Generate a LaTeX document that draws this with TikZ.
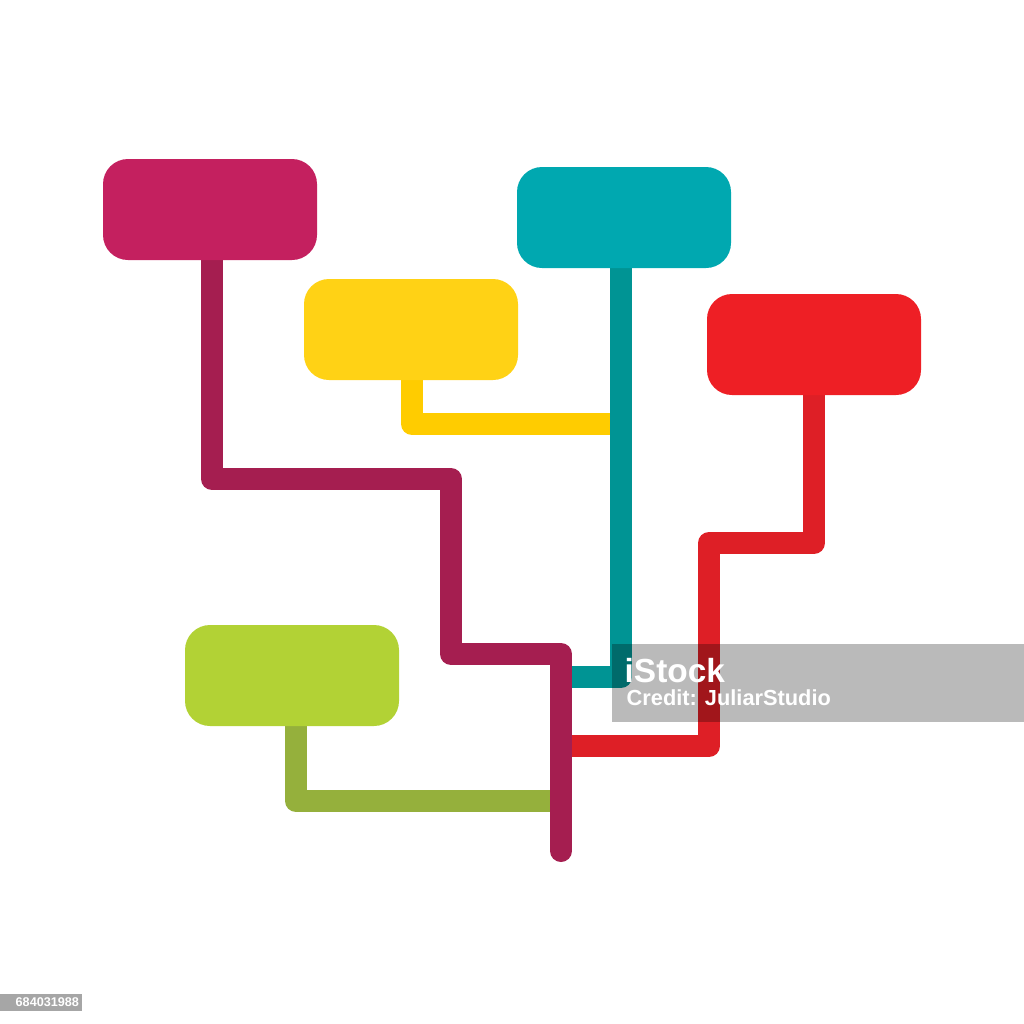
\documentclass[tikz,border=0pt]{standalone}
\usepackage{fontspec}
\setmainfont{Liberation Sans}
\usetikzlibrary{positioning}
\pgfdeclarelayer{edgelayer}
\pgfdeclarelayer{nodelayer}
\pgfsetlayers{edgelayer,nodelayer,main}
\definecolor{boxmagenta}{RGB}{196,32,95}
\definecolor{boxyellow}{RGB}{255,210,21}
\definecolor{boxteal}{RGB}{0,168,176}
\definecolor{boxred}{RGB}{238,31,37}
\definecolor{boxgreen}{RGB}{178,210,53}
\definecolor{linemagenta}{RGB}{165,30,80}
\definecolor{lineyellow}{RGB}{255,204,0}
\definecolor{lineteal}{RGB}{0,148,148}
\definecolor{linered}{RGB}{222,31,38}
\definecolor{linegreen}{RGB}{149,176,60}
\tikzstyle{none}=[inner sep=0pt]
\tikzstyle{card}=[rounded corners=0.25cm, minimum width=2.14cm, minimum height=1.01cm, inner sep=0pt]
\tikzstyle{wire}=[line width=0.22cm, line join=round]
\tikzstyle{stamp}=[text=white, font=\bfseries, inner sep=0pt, anchor=west]

\begin{document}
\begin{tikzpicture}
	\useasboundingbox (0,0) rectangle (10.24,-10.24);
	\begin{pgfonlayer}{nodelayer}
		\node [style=card, fill=boxmagenta] (0) at (2.10, -2.095) {};
		\node [style=card, fill=boxyellow] (1) at (4.11, -3.295) {};
		\node [style=card, fill=boxteal] (2) at (6.24, -2.175) {};
		\node [style=card, fill=boxred] (3) at (8.14, -3.445) {};
		\node [style=card, fill=boxgreen] (4) at (2.92, -6.755) {};
		\coordinate (5) at (2.12, -4.79);
		\coordinate (6) at (4.51, -4.79);
		\coordinate (7) at (4.51, -6.54);
		\coordinate (8) at (5.61, -6.54);
		\coordinate (9) at (5.61, -8.51);
		\coordinate (10) at (4.12, -4.24);
		\coordinate (11) at (6.21, -4.24);
		\coordinate (12) at (6.21, -6.77);
		\coordinate (13) at (5.61, -6.77);
		\coordinate (14) at (8.14, -5.43);
		\coordinate (15) at (7.09, -5.43);
		\coordinate (16) at (7.09, -7.46);
		\coordinate (17) at (5.61, -7.46);
		\coordinate (18) at (2.96, -8.01);
		\coordinate (19) at (5.61, -8.01);
	\end{pgfonlayer}
	\begin{pgfonlayer}{edgelayer}
		\draw [style=wire, lineyellow] (10 |- 1.center) -- (10) -- (11);
		\draw [style=wire, lineteal] (12 |- 2.center) -- (12) -- (13);
		\draw [style=wire, linered] (14 |- 3.center) -- (14) -- (15) -- (16) -- (17);
		\draw [style=wire, linegreen] (18 |- 4.center) -- (18) -- (19);
		\draw [style=wire, linemagenta, line cap=round] (5 |- 0.center) -- (5) -- (6) -- (7) -- (8) -- (9);
	\end{pgfonlayer}
	\fill [black, opacity=0.27] (6.12, -6.44) rectangle (10.24, -7.22);
	\node [style=stamp, font=\bfseries\fontsize{9.5}{10}\selectfont] (20) at (6.24, -6.71) {iStock};
	\node [style=stamp, font=\bfseries\fontsize{6.2}{7}\selectfont] (21) at (6.26, -6.98) {Credit: JuliarStudio};
	\fill [black!35] (0, -9.94) rectangle (0.82, -10.11);
	\node [style=stamp, font=\bfseries\fontsize{3.6}{4}\selectfont] (22) at (0.15, -10.025) {684031988};
\end{tikzpicture}
\end{document}
